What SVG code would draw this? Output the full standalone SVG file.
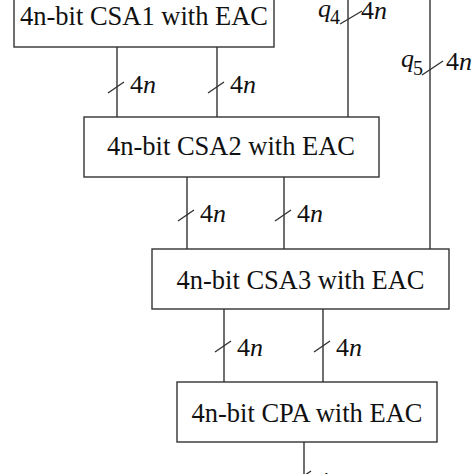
<svg xmlns="http://www.w3.org/2000/svg" width="474" height="474" viewBox="0 0 474 474">
<style>
.box{fill:#fff;stroke:#333;stroke-width:1.4}
.ln{stroke:#333;stroke-width:1.4;fill:none}
.t{font-family:"Liberation Serif","Times New Roman",serif;font-size:26.5px;fill:#111;text-anchor:middle}
.lb{font-family:"Liberation Serif","Times New Roman",serif;font-size:26px;fill:#111}
.i{font-style:italic}
.sub{font-family:"Liberation Serif","Times New Roman",serif;font-size:20px;fill:#111}
</style>
<rect width="474" height="474" fill="#fff"/>
<g id="connectors">
<line class="ln" x1="117" y1="47" x2="117" y2="117"/>
<line class="ln" x1="217" y1="47" x2="217" y2="117"/>
<line class="ln" x1="348" y1="0" x2="348" y2="117"/>
<line class="ln" x1="430" y1="0" x2="430" y2="249"/>
<line class="ln" x1="187" y1="177" x2="187" y2="249"/>
<line class="ln" x1="284" y1="177" x2="284" y2="249"/>
<line class="ln" x1="224" y1="309" x2="224" y2="382"/>
<line class="ln" x1="323" y1="309" x2="323" y2="382"/>
<line class="ln" x1="304" y1="442" x2="304" y2="474"/>
<path class="ln" d="M108,93 L124,82 M208,93 L224,82 M340,24 L362,11 M422,75 L443,61 M178,221 L194,210 M275,221 L291,210 M215,352 L231,341 M314,352 L330,341 M295,482 L311,471"/>
<text class="lb" x="130" y="93">4<tspan class="i">n</tspan></text>
<text class="lb" x="230" y="93">4<tspan class="i">n</tspan></text>
<text class="lb" x="200" y="222">4<tspan class="i">n</tspan></text>
<text class="lb" x="297" y="222">4<tspan class="i">n</tspan></text>
<text class="lb" x="237" y="356">4<tspan class="i">n</tspan></text>
<text class="lb" x="336" y="356">4<tspan class="i">n</tspan></text>
<text class="lb" x="317" y="490">4<tspan class="i">n</tspan></text>
<text class="lb" x="361" y="19">4<tspan class="i">n</tspan></text>
<text class="lb" x="446" y="70">4<tspan class="i">n</tspan></text>
<text class="lb i" x="318" y="17">q</text><text class="sub" x="330" y="24">4</text>
<text class="lb i" x="401" y="67">q</text><text class="sub" x="413" y="75">5</text>
</g>
<g id="csa1"><rect class="box" x="14" y="-15" width="260" height="62"/><text class="t" x="144" y="25">4n-bit CSA1 with EAC</text></g>
<g id="csa2"><rect class="box" x="84" y="117" width="295" height="60"/><text class="t" x="231" y="155">4n-bit CSA2 with EAC</text></g>
<g id="csa3"><rect class="box" x="152" y="249" width="297" height="60"/><text class="t" x="300.5" y="289">4n-bit CSA3 with EAC</text></g>
<g id="cpa"><rect class="box" x="177" y="382" width="260" height="60"/><text class="t" x="307" y="422">4n-bit CPA with EAC</text></g>
</svg>
